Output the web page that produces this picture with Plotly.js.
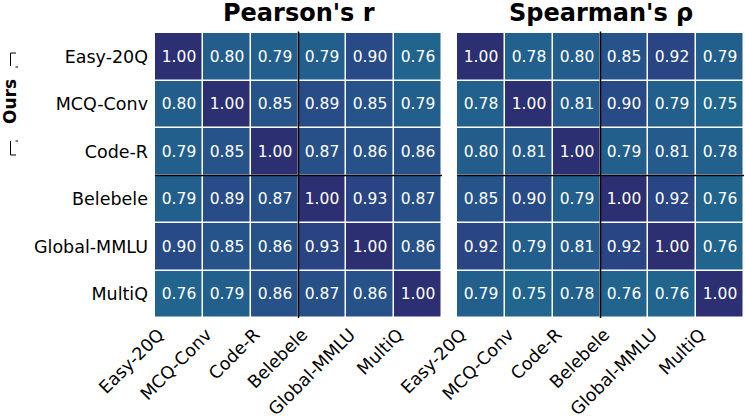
<!DOCTYPE html>
<html>
<head>
<meta charset="utf-8">
<script src="https://cdn.plot.ly/plotly-3.0.1.min.js"></script>
<style>html,body{margin:0;padding:0;background:#fff;}#chart{width:745px;height:420px;}</style>
</head>
<body>
<div id="chart"></div>
<script>
const categories = ["Easy-20Q", "MCQ-Conv", "Code-R", "Belebele", "Global-MMLU", "MultiQ"];
const pearsonValues = [
  [1.00, 0.80, 0.79, 0.79, 0.90, 0.76],
  [0.80, 1.00, 0.85, 0.89, 0.85, 0.79],
  [0.79, 0.85, 1.00, 0.87, 0.86, 0.86],
  [0.79, 0.89, 0.87, 1.00, 0.93, 0.87],
  [0.90, 0.85, 0.86, 0.93, 1.00, 0.86],
  [0.76, 0.79, 0.86, 0.87, 0.86, 1.00]
];
const spearmanValues = [
  [1.00, 0.78, 0.80, 0.85, 0.92, 0.79],
  [0.78, 1.00, 0.81, 0.90, 0.79, 0.75],
  [0.80, 0.81, 1.00, 0.79, 0.81, 0.78],
  [0.85, 0.90, 0.79, 1.00, 0.92, 0.76],
  [0.92, 0.79, 0.81, 0.92, 1.00, 0.76],
  [0.79, 0.75, 0.78, 0.76, 0.76, 1.00]
];
const panelTitles = ["Pearson's r", "Spearman's ρ"];
const groupLabel = "Ours";

const W = 745, H = 420;
const mL = 155, mR = 1, mT = 33, mB = 102;
const pw = W - mL - mR, ph = H - mT - mB;
const px = x => (x - mL) / pw;
const py = y => 1 - (y - mT) / ph;

const cscale = [
  [0.0, '#21668e'],
  [0.2, '#235d8c'],
  [0.4, '#26548a'],
  [0.6, '#284a86'],
  [0.72, '#2a4382'],
  [1.0, '#2c2f72']
];
const font = "DejaVu Sans, sans-serif";

function hm(z, xa, ya) {
  return {
    type: 'heatmap', z: z, x: categories, y: categories,
    xaxis: xa, yaxis: ya,
    colorscale: cscale, zmin: 0.75, zmax: 1.0, showscale: false,
    xgap: 1.5, ygap: 1.5,
    texttemplate: '%{z:.2f}',
    textfont: {family: font, size: 15.5, color: '#ffffff'},
    hoverinfo: 'skip'
  };
}

const d1 = [0, (442 - mL) / pw];
const d2 = [(457 - mL) / pw, 1];

const axX = dom => ({domain: dom, tickangle: -45, showgrid: false, zeroline: false, showline: false, ticks: '',
  ticklabelstandoff: 2, ticklabelshift: -20,
  tickfont: {family: font, size: 17.5, color: '#000'}, fixedrange: true});

const layout = {
  width: W, height: H,
  margin: {l: mL, r: mR, t: mT, b: mB, pad: 0},
  paper_bgcolor: '#fff', plot_bgcolor: '#fff',
  showlegend: false,
  xaxis: axX(d1),
  xaxis2: axX(d2),
  yaxis: {domain: [0, 1], autorange: 'reversed', showgrid: false, zeroline: false, ticks: '', ticklabelstandoff: 6,
    tickfont: {family: font, size: 17.5, color: '#000'}},
  yaxis2: {domain: [0, 1], anchor: 'x2', autorange: 'reversed', showgrid: false, zeroline: false, showticklabels: false, ticks: ''},
  annotations: [
    {text: '<b>' + panelTitles[0] + '</b>', xref: 'paper', yref: 'paper', x: (d1[0] + d1[1]) / 2, y: py(13), xanchor: 'center', yanchor: 'middle', showarrow: false, font: {family: font, size: 24, color: '#000'}},
    {text: '<b>' + panelTitles[1] + '</b>', xref: 'paper', yref: 'paper', x: (d2[0] + d2[1]) / 2, y: py(13), xanchor: 'center', yanchor: 'middle', showarrow: false, font: {family: font, size: 24, color: '#000'}},
    {text: '<b>' + groupLabel + '</b>', xref: 'paper', yref: 'paper', x: px(10), y: py(102), xanchor: 'center', yanchor: 'middle', textangle: -90, showarrow: false, font: {family: font, size: 17, color: '#000'}}
  ],
  shapes: [
    {type: 'line', xref: 'x', yref: 'y domain', x0: 2.5, x1: 2.5, y0: 0, y1: 1.005, line: {color: '#000', width: 1.5}},
    {type: 'line', xref: 'x2', yref: 'y2 domain', x0: 2.5, x1: 2.5, y0: 0, y1: 1.005, line: {color: '#000', width: 1.5}},
    {type: 'line', xref: 'x domain', yref: 'y', x0: 0, x1: 1, y0: 2.5, y1: 2.5, line: {color: '#000', width: 1.5}},
    {type: 'line', xref: 'x2 domain', yref: 'y2', x0: 0, x1: 1, y0: 2.5, y1: 2.5, line: {color: '#000', width: 1.5}},
    {type: 'line', xref: 'paper', yref: 'paper', x0: px(10.5), x1: px(16), y0: py(53), y1: py(53), line: {color: '#000', width: 1}},
    {type: 'line', xref: 'paper', yref: 'paper', x0: px(10.5), x1: px(10.5), y0: py(53), y1: py(66), line: {color: '#000', width: 1}},
    {type: 'line', xref: 'paper', yref: 'paper', x0: px(15.5), x1: px(18), y0: py(67), y1: py(67), line: {color: '#000', width: 1}},
    {type: 'line', xref: 'paper', yref: 'paper', x0: px(10.5), x1: px(10.5), y0: py(141), y1: py(155), line: {color: '#000', width: 1}},
    {type: 'line', xref: 'paper', yref: 'paper', x0: px(10.5), x1: px(16), y0: py(155), y1: py(155), line: {color: '#000', width: 1}},
    {type: 'line', xref: 'paper', yref: 'paper', x0: px(15.5), x1: px(18), y0: py(141), y1: py(141), line: {color: '#000', width: 1}}
  ]
};

Plotly.newPlot('chart', [hm(pearsonValues, 'x', 'y'), hm(spearmanValues, 'x2', 'y2')], layout, {staticPlot: true, displayModeBar: false});
</script>
</body>
</html>
